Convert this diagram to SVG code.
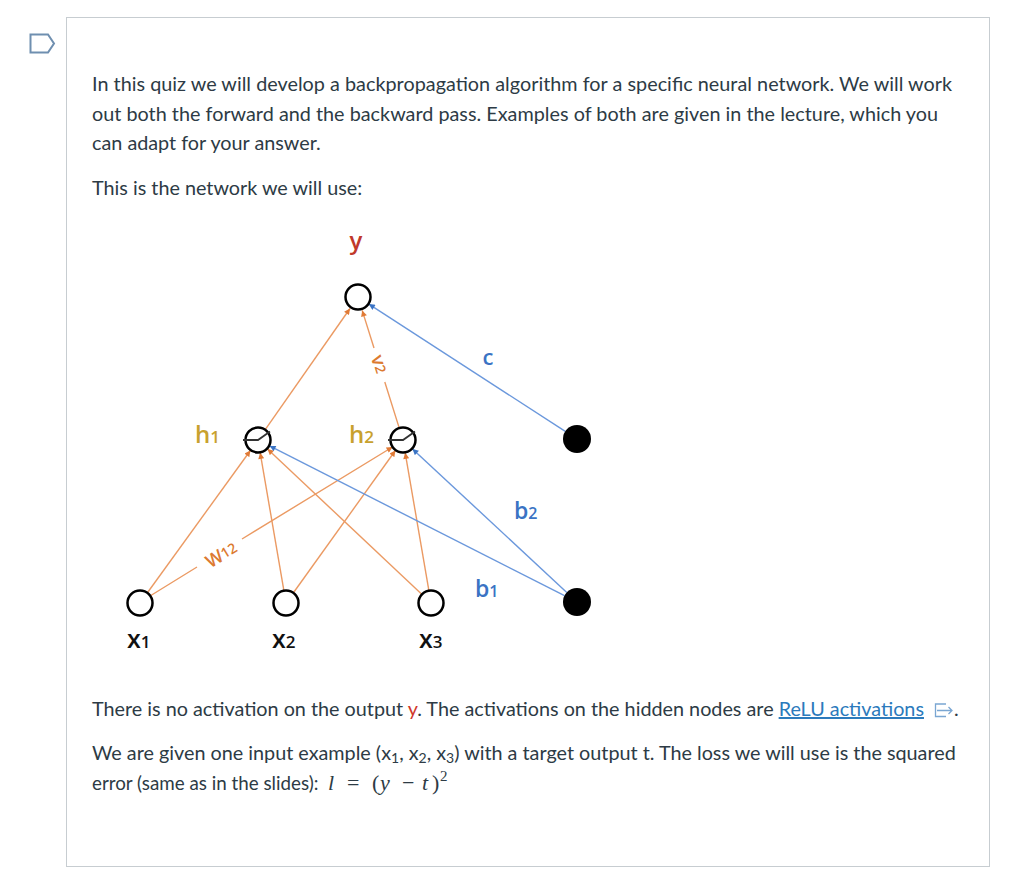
<svg xmlns="http://www.w3.org/2000/svg" width="1024" height="891" viewBox="0 0 1024 891">
<defs>
<style>
.body{font-family:Lato,"Noto Sans","Liberation Sans",sans-serif;font-size:19.8px;fill:#2d3b45}
.edge-o{stroke:#eb9a63;stroke-width:1.4;fill:none}
.edge-b{stroke:#6b98dc;stroke-width:1.4;fill:none}
.node{fill:#fff;stroke:#000;stroke-width:2.5}
.bias{fill:#000}
.relu{stroke:#333;stroke-width:1.8;fill:none}
.lbl{font-family:"Open Sans","Noto Sans","Liberation Sans",sans-serif;font-weight:600}
.math{font-family:"Liberation Serif","DejaVu Serif",serif;font-size:22px;fill:#2d3b45}
.sup{font-family:"Liberation Serif","DejaVu Serif",serif;font-size:15px;fill:#2d3b45}
</style>
<marker id="ao" viewBox="0 0 10 10" refX="10" refY="5" markerUnits="userSpaceOnUse" markerWidth="7" markerHeight="6" orient="auto">
<path d="M0,0 L10,5 L0,10 z" fill="#e07a36"/>
</marker>
<marker id="ab" viewBox="0 0 10 10" refX="10" refY="5" markerUnits="userSpaceOnUse" markerWidth="7" markerHeight="6" orient="auto">
<path d="M0,0 L10,5 L0,10 z" fill="#3a73c4"/>
</marker>
</defs>
<rect width="1024" height="891" fill="#fff"/>
<path d="M30.5,34.5 H48 L54,43.5 L48,52.5 H30.5 Z" fill="none" stroke="#6f8fb0" stroke-width="2"/>
<rect x="66.5" y="17.5" width="923" height="849" fill="none" stroke="#c7cdd1" stroke-width="1"/>

<g id="intro-text" class="body">
<text x="92" y="91" textLength="860" lengthAdjust="spacing">In this quiz we will develop a backpropagation algorithm for a specific neural network. We will work</text>
<text x="92" y="121" textLength="846" lengthAdjust="spacing">out both the forward and the backward pass. Examples of both are given in the lecture, which you</text>
<text x="92" y="150">can adapt for your answer.</text>
<text x="92" y="195">This is the network we will use:</text>
</g>

<g id="connectors">
<path class="edge-o" d="M265.4,429.4 L350,308.5" marker-end="url(#ao)"/>
<path class="edge-o" d="M399.1,427.6 L384.8,382 M374,348 L362.2,310.4" marker-end="url(#ao)"/>
<path class="edge-o" d="M147.6,592.5 L250.4,450.5" marker-end="url(#ao)"/>
<path class="edge-o" d="M150,596 L197,567 M242,539 L392.5,447" marker-end="url(#ao)"/>
<path class="edge-o" d="M283.8,590.2 L260.2,452.8" marker-end="url(#ao)"/>
<path class="edge-o" d="M293.6,592.5 L395.4,450.5" marker-end="url(#ao)"/>
<path class="edge-o" d="M421.5,594.1 L267.5,448.9" marker-end="url(#ao)"/>
<path class="edge-o" d="M428.8,590.2 L405.2,452.8" marker-end="url(#ao)"/>
<path class="edge-b" d="M564.5,595.7 L269.6,445.9" marker-end="url(#ab)"/>
<path class="edge-b" d="M566.8,592.5 L412.5,448.9" marker-end="url(#ab)"/>
<path class="edge-b" d="M565.3,431.4 L368.9,304.1" marker-end="url(#ab)"/>
<text class="lbl" x="0" y="0" transform="translate(380,364) rotate(73)" text-anchor="middle" dominant-baseline="central" font-size="19" fill="#dc7a30">v<tspan font-size="14">2</tspan></text>
<text class="lbl" x="0" y="0" transform="translate(221,554) rotate(-31.5)" text-anchor="middle" dominant-baseline="central" font-size="18" fill="#dc7a30">W<tspan font-size="14">12</tspan></text>
<text class="lbl" x="488" y="365" text-anchor="middle" font-size="22" fill="#3a73c4">c</text>
<text class="lbl" x="514" y="519" font-size="23" fill="#3a73c4">b<tspan font-size="16">2</tspan></text>
<text class="lbl" x="475" y="597" font-size="23" fill="#3a73c4">b<tspan font-size="16">1</tspan></text>
</g>

<g id="node-y">
<circle class="node" cx="358" cy="297" r="12.5"/>
<text class="lbl" x="356" y="249" text-anchor="middle" font-size="24" fill="#c0392b">y</text>
</g>
<g id="node-h1">
<circle class="node" cx="258" cy="440" r="12.5"/>
<path class="relu" d="M243,440 H258 L270,431.5"/>
<text class="lbl" x="195" y="443" font-size="24" fill="#c8a12e">h<tspan font-size="17">1</tspan></text>
</g>
<g id="node-h2">
<circle class="node" cx="403" cy="440" r="12.5"/>
<path class="relu" d="M388,440 H403 L415,431.5"/>
<text class="lbl" x="349" y="443" font-size="24" fill="#c8a12e">h<tspan font-size="17">2</tspan></text>
</g>
<g id="node-b1">
<circle class="bias" cx="577" cy="439" r="14"/>
</g>
<g id="node-b2">
<circle class="bias" cx="577" cy="602" r="14"/>
</g>
<g id="node-x1">
<circle class="node" cx="140" cy="603" r="12.5"/>
<text class="lbl" x="127" y="648" font-size="25" fill="#111">x<tspan font-size="17">1</tspan></text>
</g>
<g id="node-x2">
<circle class="node" cx="286" cy="603" r="12.5"/>
<text class="lbl" x="272" y="648" font-size="25" fill="#111">x<tspan font-size="17">2</tspan></text>
</g>
<g id="node-x3">
<circle class="node" cx="431" cy="603" r="12.5"/>
<text class="lbl" x="419" y="648" font-size="25" fill="#111">x<tspan font-size="17">3</tspan></text>
</g>

<g id="outro-text" class="body">
<text x="92" y="716">There is no activation on the output <tspan fill="#d0382a">y</tspan>. The activations on the hidden nodes are <tspan fill="#2b7abc" text-decoration="underline">ReLU activations</tspan></text>
<g fill="none" stroke="#7aa6d2" stroke-width="1.3">
<path d="M946,704 H935.5 V716.5 H946"/>
<path d="M937,710.5 H952 M948.5,707 L952,710.5 L948.5,714"/>
</g>
<text x="954" y="716">.</text>
<text x="92" y="760">We are given one input example (x<tspan font-size="14" dy="3">1</tspan><tspan dy="-3">, x</tspan><tspan font-size="14" dy="3">2</tspan><tspan dy="-3">, x</tspan><tspan font-size="14" dy="3">3</tspan><tspan dy="-3">) with a target output t. The loss we will use is the squared</tspan></text>
<text x="92" y="790"><tspan font-size="18.8">error (same as in the slides):</tspan><tspan class="math" x="328" font-style="italic">l</tspan><tspan class="math" x="347">=</tspan><tspan class="math" x="372">(</tspan><tspan class="math" x="380" font-style="italic" fill="#d42a20">y</tspan><tspan class="math" x="402">−</tspan><tspan class="math" x="422" font-style="italic">t</tspan><tspan class="math" x="432">)</tspan><tspan class="sup" x="440" dy="-9">2</tspan></text>
</g>
</svg>
